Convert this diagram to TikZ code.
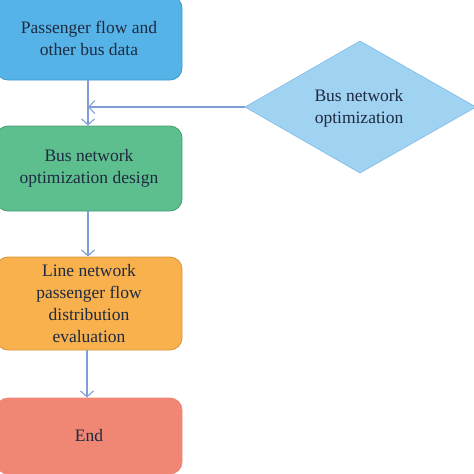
\documentclass[tikz,border=0pt]{standalone}
\usepackage{fontspec}
\setmainfont{Liberation Serif}
\usetikzlibrary{arrows.meta}
\definecolor{b1}{HTML}{56B3E8}
\definecolor{b1d}{HTML}{3E97CF}
\definecolor{g1}{HTML}{5DBE8E}
\definecolor{g1d}{HTML}{459E72}
\definecolor{o1}{HTML}{F8B14C}
\definecolor{o1d}{HTML}{D6963A}
\definecolor{r1}{HTML}{F08674}
\definecolor{dm}{HTML}{A0D2F2}
\definecolor{dmd}{HTML}{80BCE6}
\definecolor{ar}{HTML}{7F9ED8}
\definecolor{tx}{HTML}{1E2A40}
\begin{document}
\begin{tikzpicture}[x=1pt,y=-1pt,
  box/.style={rounded corners=12pt, line width=0.8pt, align=center, text=tx,
    font=\fontsize{17.5}{22}\selectfont, inner sep=0pt},
  conn/.style={ar, line width=1.1pt, -{Straight Barb[length=6pt,width=13pt]}}]
\useasboundingbox (0,0) rectangle (474,474);
\node[box, fill=b1, draw=b1d, minimum width=186pt, minimum height=84pt] (n1) at (89,38) {Passenger flow and\\other bus data};
\node[box, fill=g1, draw=g1d, minimum width=186pt, minimum height=85pt] (n2) at (89,168.5) {Bus network\\optimization design};
\node[box, fill=o1, draw=o1d, minimum width=186pt, minimum height=93pt] (n3) at (89,303.5) {Line network\\passenger flow\\distribution\\evaluation};
\node[box, fill=r1, draw=r1, minimum width=186pt, minimum height=76pt] (n4) at (89,436) {End};
\coordinate (dl) at (245,107);
\coordinate (dt) at (360,41);
\coordinate (dr) at (476,107);
\coordinate (db) at (360,173);
\draw[fill=dm, draw=dmd, line width=0.6pt] (dl) -- (dt) -- (dr) -- (db) -- cycle;
\node[align=center, text=tx, font=\fontsize{17.5}{22}\selectfont] (dtext) at (359,108) {Bus network\\optimization};
\coordinate (j) at (88,107);
\draw[conn] (n1.south -| j) -- (n2.north -| j);
\draw[conn] (dl) -- (j);
\draw[conn] (n2.south -| j) -- (n3.north -| j);
\draw[conn] ([xshift=-2pt]n3.south) -- ([xshift=-2pt]n4.north);
\end{tikzpicture}
\end{document}
